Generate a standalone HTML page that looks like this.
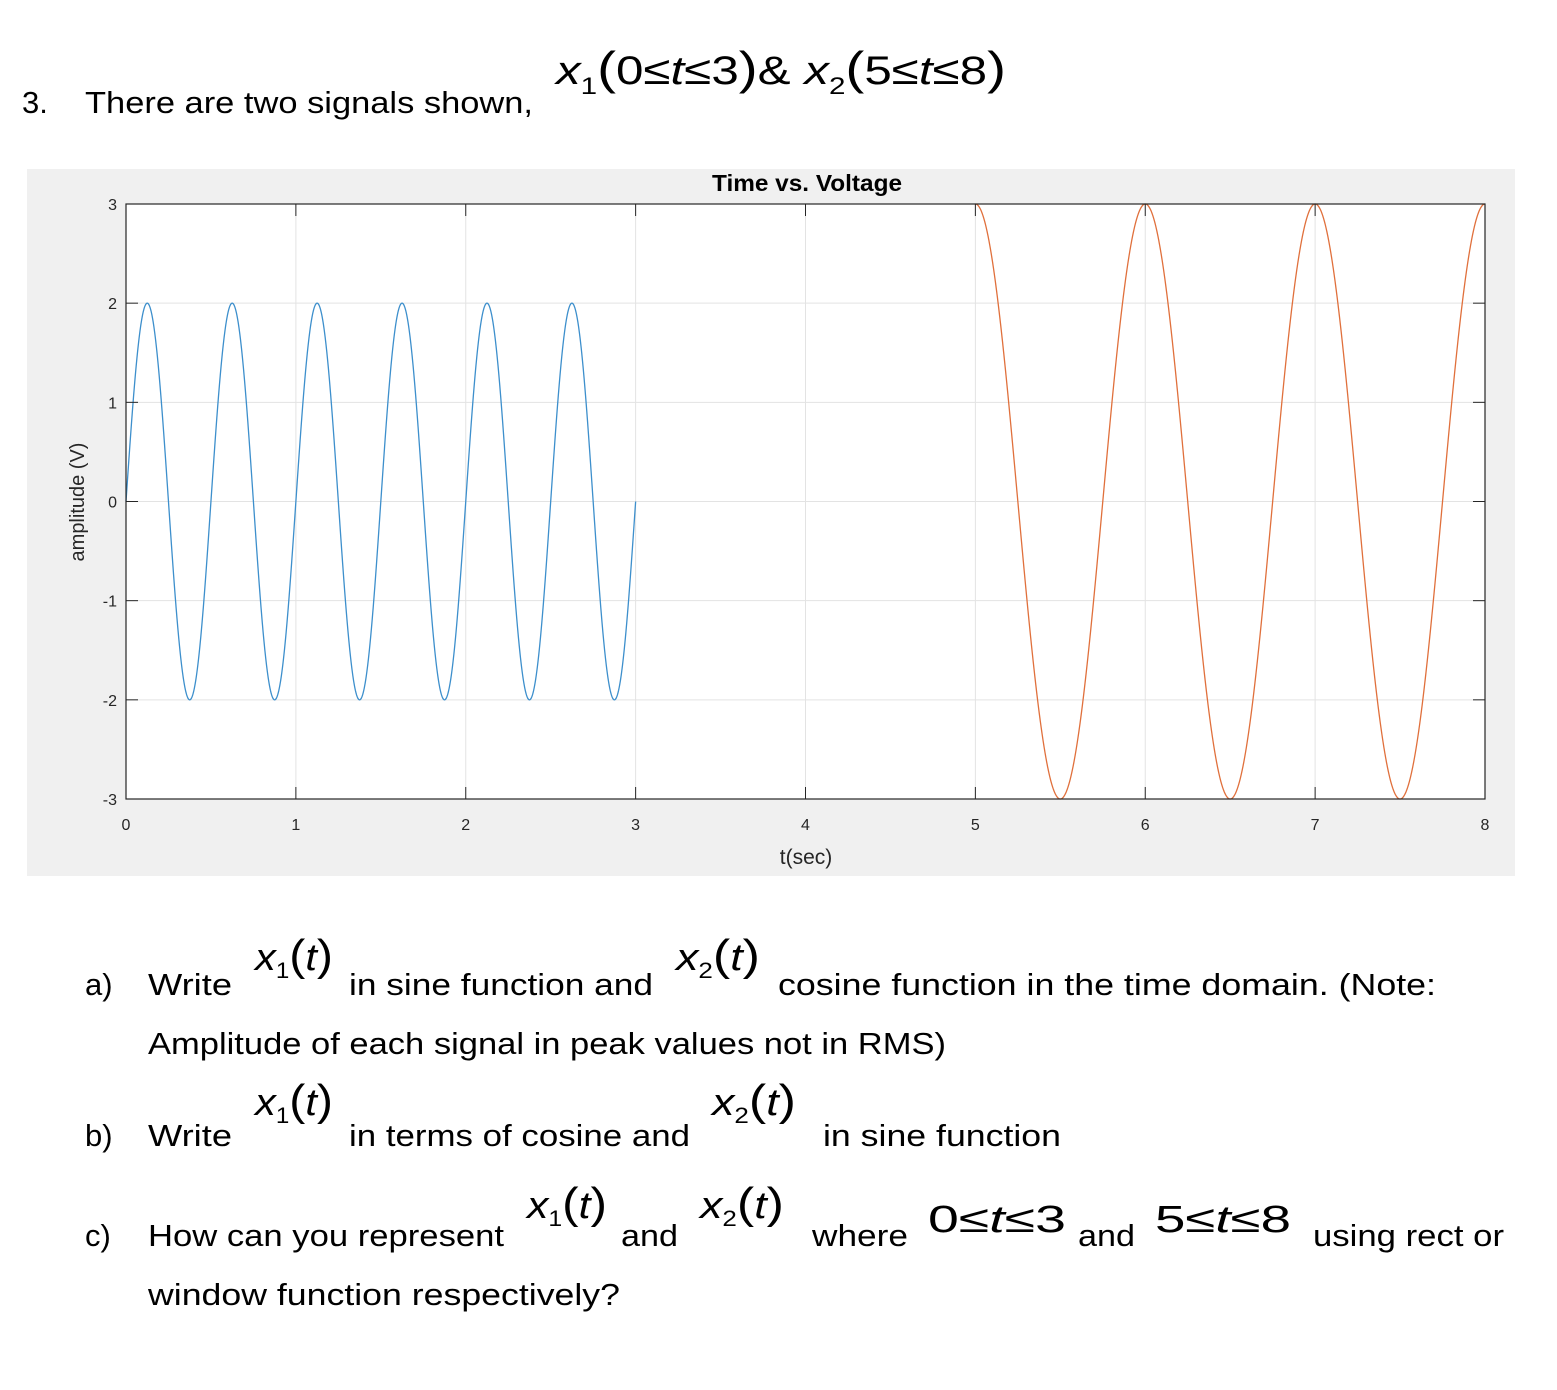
<!DOCTYPE html>
<html><head><meta charset="utf-8"><style>
html,body{margin:0;padding:0;background:#fff;}
svg{display:block;}
.t{font-family:"Liberation Sans",sans-serif;font-size:31px;fill:#000;}
.m{font-family:"Liberation Sans",sans-serif;fill:#000;}
.tick{font-family:"Liberation Sans",sans-serif;font-size:16px;fill:#262626;}
</style></head><body>
<svg id="page" width="1557" height="1390" viewBox="0 0 1557 1390" xmlns="http://www.w3.org/2000/svg">
<g>
<text class="t" x="22" y="113">3.</text>
<text class="t" x="85" y="113" textLength="448" lengthAdjust="spacingAndGlyphs">There are two signals shown,</text>
<text class="m" x="556" y="84" font-size="40" textLength="450" lengthAdjust="spacingAndGlyphs"><tspan font-style="italic">x</tspan><tspan font-size="24" dy="10">1</tspan><tspan font-size="46" dy="-10">(</tspan>0≤<tspan font-style="italic">t</tspan>≤3<tspan font-size="46">)</tspan>&amp; <tspan font-style="italic">x</tspan><tspan font-size="24" dy="10">2</tspan><tspan font-size="46" dy="-10">(</tspan>5≤<tspan font-style="italic">t</tspan>≤8<tspan font-size="46">)</tspan></text>
</g>
<g id="chart">
<rect x="27" y="169" width="1488" height="707" fill="#f0f0f0"/>
<rect x="126" y="204" width="1359" height="595" fill="#fff"/>
<g id="grid"></g><g id="series"></g>
<rect x="126" y="204" width="1359" height="595" fill="none" stroke="#262626" stroke-width="1.2"/>
<g id="ticks"></g>
<text x="807" y="191" text-anchor="middle" font-family="Liberation Sans,sans-serif" font-weight="bold" font-size="23" textLength="190" lengthAdjust="spacingAndGlyphs" fill="#000">Time vs. Voltage</text>
<text x="806" y="864" text-anchor="middle" font-family="Liberation Sans,sans-serif" font-size="21" fill="#262626">t(sec)</text>
<text transform="translate(84,502) rotate(-90)" text-anchor="middle" font-family="Liberation Sans,sans-serif" font-size="20" fill="#262626">amplitude (V)</text>
</g>
<g>
<text class="t" x="85" y="995">a)</text>
<text class="t" x="148" y="995" textLength="84" lengthAdjust="spacingAndGlyphs">Write</text>
<text class="m" x="255" y="970" font-size="38" textLength="78" lengthAdjust="spacingAndGlyphs"><tspan font-style="italic">x</tspan><tspan font-size="22" dy="8">1</tspan><tspan font-size="44" dy="-8">(</tspan><tspan font-style="italic">t</tspan><tspan font-size="44">)</tspan></text>
<text class="t" x="349" y="995" textLength="304" lengthAdjust="spacingAndGlyphs">in sine function and</text>
<text class="m" x="676" y="970" font-size="38" textLength="84" lengthAdjust="spacingAndGlyphs"><tspan font-style="italic">x</tspan><tspan font-size="22" dy="8">2</tspan><tspan font-size="44" dy="-8">(</tspan><tspan font-style="italic">t</tspan><tspan font-size="44">)</tspan></text>
<text class="t" x="778" y="995" textLength="658" lengthAdjust="spacingAndGlyphs">cosine function in the time domain. (Note:</text>
<text class="t" x="148" y="1054" textLength="798" lengthAdjust="spacingAndGlyphs">Amplitude of each signal in peak values not in RMS)</text>

<text class="t" x="85" y="1146">b)</text>
<text class="t" x="148" y="1146" textLength="84" lengthAdjust="spacingAndGlyphs">Write</text>
<text class="m" x="255" y="1115" font-size="38" textLength="78" lengthAdjust="spacingAndGlyphs"><tspan font-style="italic">x</tspan><tspan font-size="22" dy="8">1</tspan><tspan font-size="44" dy="-8">(</tspan><tspan font-style="italic">t</tspan><tspan font-size="44">)</tspan></text>
<text class="t" x="349" y="1146" textLength="341" lengthAdjust="spacingAndGlyphs">in terms of cosine and</text>
<text class="m" x="712" y="1115" font-size="38" textLength="84" lengthAdjust="spacingAndGlyphs"><tspan font-style="italic">x</tspan><tspan font-size="22" dy="8">2</tspan><tspan font-size="44" dy="-8">(</tspan><tspan font-style="italic">t</tspan><tspan font-size="44">)</tspan></text>
<text class="t" x="823" y="1146" textLength="238" lengthAdjust="spacingAndGlyphs">in sine function</text>

<text class="t" x="85" y="1246">c)</text>
<text class="t" x="148" y="1246" textLength="356" lengthAdjust="spacingAndGlyphs">How can you represent</text>
<text class="m" x="527" y="1218" font-size="38" textLength="80" lengthAdjust="spacingAndGlyphs"><tspan font-style="italic">x</tspan><tspan font-size="22" dy="8">1</tspan><tspan font-size="44" dy="-8">(</tspan><tspan font-style="italic">t</tspan><tspan font-size="44">)</tspan></text>
<text class="t" x="621" y="1246" textLength="57" lengthAdjust="spacingAndGlyphs">and</text>
<text class="m" x="700" y="1218" font-size="38" textLength="84" lengthAdjust="spacingAndGlyphs"><tspan font-style="italic">x</tspan><tspan font-size="22" dy="8">2</tspan><tspan font-size="44" dy="-8">(</tspan><tspan font-style="italic">t</tspan><tspan font-size="44">)</tspan></text>
<text class="t" x="812" y="1246" textLength="96" lengthAdjust="spacingAndGlyphs">where</text>
<text class="m" x="928" y="1232" font-size="38" textLength="138" lengthAdjust="spacingAndGlyphs">0≤<tspan font-style="italic">t</tspan>≤3</text>
<text class="t" x="1078" y="1246" textLength="57" lengthAdjust="spacingAndGlyphs">and</text>
<text class="m" x="1155" y="1232" font-size="38" textLength="136" lengthAdjust="spacingAndGlyphs">5≤<tspan font-style="italic">t</tspan>≤8</text>
<text class="t" x="1313" y="1246" textLength="191" lengthAdjust="spacingAndGlyphs">using rect or</text>
<text class="t" x="148" y="1305" textLength="472" lengthAdjust="spacingAndGlyphs">window function respectively?</text>
</g>
</svg>
<script>
const xTicks=[0,1,2,3,4,5,6,7,8];
const yTicks=[-3,-2,-1,0,1,2,3];
const seriesNames=['x1','x2'];
const seriesAmp=[2,3];
const seriesFreq=[2,1];
const seriesFunc=['sin','cos'];
const seriesStart=[0,5];
const seriesEnd=[3,8];
const seriesColor=['#3d8fcc','#e0703c'];
const NS='http://www.w3.org/2000/svg';
const L=126,R=1485,T=204,B=799;
const xs=t=>L+(t-0)/(8-0)*(R-L);
const ys=v=>B-(v+3)/6*(B-T);
const grid=document.getElementById('grid'),ticks=document.getElementById('ticks'),ser=document.getElementById('series');
function mk(tag,attrs,parent){const e=document.createElementNS(NS,tag);for(const k in attrs)e.setAttribute(k,attrs[k]);parent.appendChild(e);return e;}
xTicks.forEach(t=>{
  const x=xs(t);
  const g=mk('line',{x1:x,x2:x,y1:T,y2:B,stroke:'#e3e3e3','stroke-width':1},grid);
  
  
  const a=mk('line',{x1:x,x2:x,y1:B,y2:B-12,stroke:'#262626'},ticks);
  
  
  const b=mk('line',{x1:x,x2:x,y1:T,y2:T+12,stroke:'#262626'},ticks);
  
  
  const tx=mk('text',{x:x,y:830,'text-anchor':'middle',class:'tick'},ticks);
  tx.textContent=t;
  
  
});
yTicks.forEach(v=>{
  const y=ys(v);
  const g=mk('line',{x1:L,x2:R,y1:y,y2:y,stroke:'#e3e3e3','stroke-width':1},grid);
  
  
  const a=mk('line',{x1:L,x2:L+12,y1:y,y2:y,stroke:'#262626'},ticks);
  
  
  const b=mk('line',{x1:R,x2:R-12,y1:y,y2:y,stroke:'#262626'},ticks);
  
  
  const tx=mk('text',{x:117,y:y+6,'text-anchor':'end',class:'tick'},ticks);
  tx.textContent=v;
  
  
});
seriesNames.forEach((n,i)=>{
  let d='';const N=1200;
  for(let k=0;k<=N;k++){
    const t=seriesStart[i]+(seriesEnd[i]-seriesStart[i])*k/N;
    const ph=2*Math.PI*seriesFreq[i]*t;
    const v=seriesAmp[i]*(seriesFunc[i]==='sin'?Math.sin(ph):Math.cos(ph));
    d+=(k?'L':'M')+xs(t).toFixed(2)+' '+ys(v).toFixed(2);
  }
  const p=mk('path',{d:d,fill:'none',stroke:seriesColor[i],'stroke-width':1.3},ser);
  
  
});
</script>
</body></html>
